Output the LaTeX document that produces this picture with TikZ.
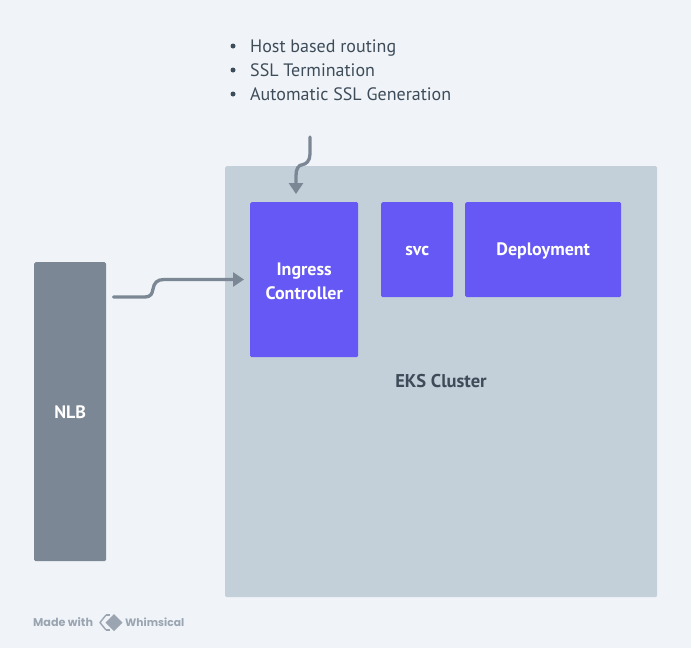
\documentclass[tikz,border=0pt]{standalone}
\usepackage{fontspec}
\setmainfont{PT Sans}
\newfontfamily\logofont{Poppins}
\usetikzlibrary{arrows.meta}
\definecolor{bgc}{HTML}{F0F4F8}
\definecolor{clusterc}{HTML}{C3CFD9}
\definecolor{nlbc}{HTML}{7B8794}
\definecolor{violetc}{HTML}{6558F5}
\definecolor{inkc}{HTML}{3E4C59}
\definecolor{logoc}{HTML}{9AA5B1}
\tikzset{
  panel/.style={rectangle,rounded corners=1.5pt,inner sep=0pt,anchor=north west},
  clusterbox/.style={panel,fill=clusterc},
  nlbbox/.style={panel,fill=nlbc,text=white,font=\fontsize{18}{21}\selectfont\bfseries},
  compbox/.style={panel,fill=violetc,text=white,align=center,font=\fontsize{18}{24}\selectfont\bfseries},
  oneline/.style={text height=14.5pt,text depth=2pt},
  caption/.style={text=inkc,font=\fontsize{18}{24}\selectfont,anchor=base west,inner sep=0pt},
  flow/.style={draw=nlbc,line width=3.3pt,line cap=round,-{Triangle[length=11pt,width=14pt]}},
  credit/.style={text=logoc,font=\logofont\fontsize{11.2}{14}\selectfont\bfseries,inner sep=0pt,anchor=west}
}
\begin{document}
\begin{tikzpicture}[x=1pt,y=-1pt]
\useasboundingbox (0,0) rectangle (691,648);
\fill[bgc] (0,0) rectangle (691,648);
\node[clusterbox,minimum width=432pt,minimum height=431pt] (cluster) at (225,166) {};
\node[text=inkc,font=\fontsize{18.5}{21}\selectfont\bfseries] (clusterlabel) at (441,381.5) {EKS Cluster};
\node[nlbbox,minimum width=72pt,minimum height=299pt] (nlb) at (34,262) {NLB};
\node[compbox,minimum width=108pt,minimum height=155pt] (ingress) at (250,202) {\rule{0pt}{15pt}Ingress\\Controller};
\node[compbox,oneline,minimum width=72pt,minimum height=95pt] (svc) at (381,202) {svc};
\node[compbox,oneline,minimum width=156pt,minimum height=95pt] (deploy) at (465,202) {Deployment};
\node[caption] (t1) at (250,52) {Host based routing};
\node[caption] (t2) at (250,76) {SSL Termination};
\node[caption] (t3) at (250,100) {Automatic SSL Generation};
\fill[inkc] (233,46) circle (2.5pt) (233,70) circle (2.5pt) (233,94) circle (2.5pt);
\coordinate (a1) at (113.5,297);
\coordinate (a1end) at (244,279.5);
\coordinate (a2) at (310,137);
\coordinate (a2end) at (296,194);
\draw[flow] (a1) -- (144,297) .. controls (152,297) and (152,293) .. (153,289) .. controls (154,283) and (157,279.5) .. (164,279.5) -- (a1end);
\draw[flow] (a2) -- (310,154) .. controls (310,161) and (306,164) .. (303,164.5) .. controls (298,165) and (296,169) .. (296,176) -- (a2end);
\node[credit] (made) at (33,622) {Made with};
\node[credit,font=\logofont\fontsize{10.7}{14}\selectfont\bfseries] (whim) at (125,622) {Whimsical};
\fill[logoc] (114,614) -- (122.5,622.5) -- (114,631) -- (105.5,622.5) -- cycle;
\draw[logoc,line width=1.4pt,line join=round] (106,615) -- (100,622.5) -- (106,630);
\draw[logoc,line width=1.4pt] (106,615) -- (110,615) (106,630) -- (110,630);
\end{tikzpicture}
\end{document}
